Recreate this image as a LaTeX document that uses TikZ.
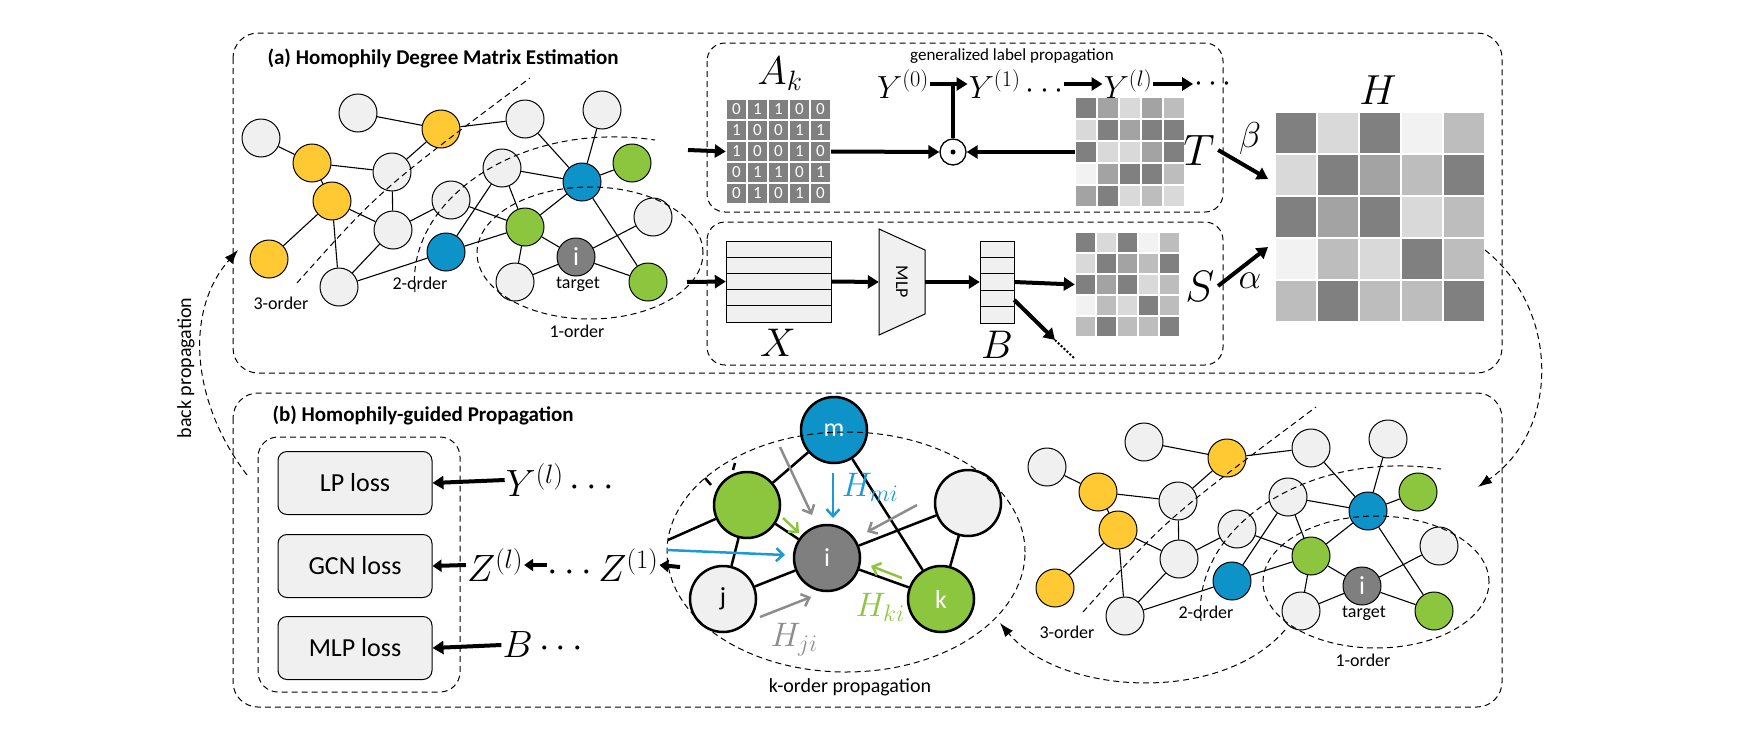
\RequirePackage{fix-cm}
\documentclass[tikz,border=0pt]{standalone}
\usepackage{fontspec}
\setmainfont{Carlito}
\usetikzlibrary{arrows.meta,shapes.geometric}
\definecolor{ngray}{HTML}{F0F0F0}
\definecolor{nyel}{HTML}{FFC933}
\definecolor{nblue}{HTML}{0E93C9}
\definecolor{ngreen}{HTML}{8CC63F}
\definecolor{ndark}{HTML}{7F7F7F}
\definecolor{mD}{HTML}{808080}
\definecolor{mM}{HTML}{A3A3A3}
\definecolor{mL}{HTML}{D9D9D9}
\definecolor{mV}{HTML}{F2F2F2}
\definecolor{mS}{HTML}{BDBDBD}
\definecolor{hblue}{HTML}{1B9AD6}
\definecolor{hgray}{HTML}{8C8C8C}
\newcommand\fsz[1]{\fontsize{#1}{#1}\selectfont}
\newcommand\gmat[4]{%
  \foreach \row [count=\r] in {#4} {
    \foreach \cc [count=\k] in \row {
      \fill[fill=\cc] ({#1+(\k-1)*#3+1},{#2+(\r-1)*#3+1}) rectangle ++({#3-2},{#3-2});
    }
  }}
\tikzset{
  gn/.style={circle,draw,line width=1pt,inner sep=0pt,minimum size=38pt,fill=ngray},
  yn/.style={gn,fill=nyel},
  bn/.style={gn,fill=nblue},
  rn/.style={gn,fill=ngreen},
  tn/.style={gn,fill=ndark,text=white,font=\fsz{26}},
  ed/.style={line width=1.1pt},
  dsh/.style={dashed,line width=1pt,dash pattern=on 6pt off 4pt},
  bigbox/.style={dsh,rounded corners=25pt},
  fat/.style={line width=4pt,-{Triangle[length=11pt,width=13pt]}},
  lbl/.style={font=\fsz{18}},
  bign/.style={circle,draw,line width=2.5pt,inner sep=0pt,minimum size=66pt,font=\fsz{26}},
  harr/.style={line width=2.5pt,-{Straight Barb[length=7pt,width=13pt]}},
  lossb/.style={draw,line width=1pt,rounded corners=9pt,fill=ngray,minimum width=154pt,minimum height=63pt,font=\fsz{26}},
  bar/.style={draw,line width=1pt,fill=ngray}
}
\newcommand\hgraph{%
  \node[gn] (g1) at (261,138) {};
  \node[gn] (g2) at (358,113) {};
  \node[yn] (y1) at (312,163) {};
  \node[yn] (y2) at (441,129) {};
  \node[gn] (g3) at (392,172) {};
  \node[yn] (y3) at (332,201) {};
  \node[gn] (g4) at (393,230) {};
  \node[yn] (y4) at (269,259) {};
  \node[gn] (g5) at (339,287) {};
  \node[gn] (g6) at (525,119) {};
  \node[gn] (g7) at (602,110) {};
  \node[gn] (g8) at (502,168) {};
  \node[gn] (g9) at (451,200) {};
  \node[bn] (b1) at (446,252) {};
  \node[bn] (b2) at (582,182) {};
  \node[rn] (r1) at (632,163) {};
  \node[rn] (r2) at (525,227) {};
  \node[tn] (ti) at (576,257) {i};
  \node[gn] (g10) at (515,282) {};
  \node[gn] (g11) at (653,217) {};
  \node[rn] (r3) at (648,282) {};
  \foreach \a/\b in {g1/y1,y1/g3,g2/y2,y2/g3,y2/g6,y1/y3,y3/g4,y3/y4,y3/g5,g3/g4,g4/g5,g4/g9,
     g5/b1,b1/r2,g8/b1,g8/b2,g8/r2,g9/r2,g6/b2,g7/b2,b2/r1,b2/r2,b2/r3,r2/ti,r2/g10,g10/ti,ti/g11,ti/r3}
     \draw[ed] (\a) -- (\b);
  \draw[dsh] (590,253) ellipse [x radius=113pt, y radius=66pt];
  \draw[dsh] (415,292) .. controls (405,200) and (520,120) .. (655,140);
  \draw[dsh] (297,283) .. controls (380,190) .. (530,78);
  \node[lbl] (l1) at (577,331) {1-order};
  \node[lbl] (l2) at (420,283) {2-order};
  \node[lbl] (l3) at (281,303) {3-order};
  \node[lbl] (lt) at (578,284) {target};
}
\begin{document}
\begin{tikzpicture}[x=1pt,y=-1pt]
\useasboundingbox (0,0) rectangle (1752,731);
% outer boxes
\draw[bigbox] (233,33) rectangle (1502,373);
\draw[bigbox] (233,393) rectangle (1502,707);
\draw[bigbox,rounded corners=18pt] (707,43) rectangle (1223,212);
\draw[bigbox,rounded corners=18pt] (707,222) rectangle (1223,365);
\node[font=\bfseries\fsz{21},anchor=west] (ta) at (264,58) {(a) Homophily Degree Matrix Estimation};
\node[font=\bfseries\fsz{21},anchor=west] (tb) at (269,415) {(b) Homophily-guided Propagation};
% graphs
\begin{scope}[name prefix=a-]\hgraph\end{scope}
\begin{scope}[shift={(786,329)},name prefix=c-]\hgraph\end{scope}
% A_k
\node[font=\fsz{40}] (Akl) at (780,74) {$A_k$};
\node[inner sep=0,minimum width=105pt,minimum height=105pt] (Ak) at (778.5,151.5) {};
\gmat{726}{99}{21}{{mD,mD,mD,mD,mD},{mD,mD,mD,mD,mD},{mD,mD,mD,mD,mD},{mD,mD,mD,mD,mD},{mD,mD,mD,mD,mD}}
\foreach \row [count=\r] in {{0,1,1,0,0},{1,0,0,1,1},{1,0,0,1,0},{0,1,1,0,1},{0,1,0,1,0}}
  \foreach \v [count=\k] in \row
    \node[text=white,font=\fsz{17},inner sep=0] at ({726+(\k-1)*21+10.5},{99+(\r-1)*21+10.5}) {\v};
\coordinate (ga) at (688,150);
\draw[fat] (ga) -- (Ak.west);
% odot
\node[circle,draw,line width=1.3pt,minimum size=26pt,inner sep=0,fill=white] (od) at (953,152) {};
\fill (od.center) circle (2.5pt);
\draw[fat] (Ak.east) -- (od.west);
% T matrix
\node[inner sep=0,minimum width=110pt,minimum height=110pt] (Tm) at (1130,152) {};
\gmat{1075}{97}{22}{{mD,mM,mL,mM,mS},{mL,mD,mM,mD,mD},{mD,mL,mL,mM,mD},{mV,mM,mD,mD,mS},{mM,mD,mL,mS,mL}}
\draw[fat] (Tm.west) -- (od.east);
% label propagation chain
\node[font=\fsz{17}] (glp) at (1012,56) {generalized label propagation};
\node[font=\fsz{32},inner sep=1pt] (Y0) at (903,84) {$Y^{(0)}$};
\node[font=\fsz{32},inner sep=1pt] (Y1) at (1016,84) {$Y^{(1)}\cdots$};
\node[font=\fsz{32},inner sep=1pt] (Yl) at (1128,84) {$Y^{(l)}$};
\node[font=\fsz{32},inner sep=1pt] (Yd) at (1213,84) {$\cdots$};
\draw[fat] (Y0.east) -- (Y1.west);
\draw[fat] (Y1.east) -- (Yl.west);
\draw[fat] (Yl.east) -- (Yd.west);
\draw[line width=4pt] (od.north) -- (od.north |- Y0.east);
% X, MLP, B
\node[inner sep=0,minimum width=105pt,minimum height=81pt] (Xm) at (778.5,281.5) {};
\foreach \r in {0,...,4} \draw[bar] (726,{241+\r*16.2}) rectangle (831,{241+(\r+1)*16.2});
\node[font=\fsz{40}] (Xl) at (778,343) {$X$};
\coordinate (gx) at (687,282);
\draw[fat] (gx) -- (Xm.west);
\draw[line width=1pt,fill=ngray] (879,229) -- (925,250) -- (925,314) -- (879,335) -- cycle;
\node[inner sep=0,minimum width=46pt,minimum height=100pt] (mlp) at (902,282) {};
\node[rotate=-90,font=\fsz{18}] (mlpt) at (902,282) {MLP};
\draw[fat] (Xm.east) -- (mlp.west);
\node[inner sep=0,minimum width=34pt,minimum height=82pt] (Bm) at (997,282) {};
\foreach \r in {0,...,4} \draw[bar] (980,{241+\r*16.4}) rectangle (1014,{241+(\r+1)*16.4});
\node[font=\fsz{40}] (Bl) at (997,345) {$B$};
\draw[fat] (mlp.east) -- (Bm.west);
% S matrix
\node[inner sep=0,minimum width=105pt,minimum height=105pt] (Sm) at (1127.5,284.5) {};
\gmat{1075}{232}{21}{{mD,mL,mD,mV,mS},{mL,mD,mM,mS,mD},{mD,mM,mD,mL,mS},{mV,mS,mL,mD,mS},{mS,mD,mS,mS,mD}}
\draw[fat] (Bm.east) -- (Sm.west);
\coordinate (bd) at (1055,340);
\draw[line width=4pt,-{Triangle[length=11pt,width=13pt]}] ([yshift=-18pt]Bm.east) -- (bd);
\draw[line width=2pt,dotted] (bd) -- (1074,358);
% H matrix
\node[font=\fsz{42}] (Hl) at (1378,90) {$H$};
\node[inner sep=0,minimum width=210pt,minimum height=210pt] (Hm) at (1380,217) {};
\gmat{1275}{112}{42}{{mD,mL,mD,mV,mS},{mL,mD,mM,mS,mD},{mD,mM,mD,mL,mS},{mV,mS,mL,mD,mS},{mS,mD,mS,mS,mD}}
\node[font=\fsz{44}] (Tl) at (1199,150) {$T$};
\node[font=\fsz{36}] (bl) at (1250,138) {$\beta$};
\node[font=\fsz{44}] (Sl) at (1200,286) {$S$};
\node[font=\fsz{36}] (al) at (1250,281) {$\alpha$};
\draw[fat] (Tl.east) -- (1268,179);
\draw[fat] (Sl.east) -- (1268,247);
% long curves
\coordinate (hc) at (1485,250);
\coordinate (ge) at (1478,487);
\draw[dsh,-{Latex[length=14pt,width=10pt]}] (hc) .. controls (1560,310) and (1560,430) .. (ge);
\coordinate (bp1) at (247,475);
\coordinate (bp2) at (238,250);
\draw[dsh,-{Latex[length=14pt,width=10pt]}] (bp1) .. controls (190,400) and (185,310) .. (bp2);
\node[rotate=90,font=\fsz{20}] (bpl) at (186,368) {back propagation};
% losses
\draw[dsh,rounded corners=20pt] (258,437) rectangle (460,692);
\node[lossb] (lp) at (355,483) {LP loss};
\node[lossb] (gcn) at (355,566) {GCN loss};
\node[lossb] (mlpl) at (355,648) {MLP loss};
\node[font=\fsz{38},inner sep=1pt] (Yb) at (560,480) {$Y^{(l)}\cdots$};
\node[font=\fsz{38},inner sep=1pt] (Zl) at (495,565) {$Z^{(l)}$};
\node[font=\fsz{38},inner sep=1pt] (Z1) at (603,565) {$\cdots Z^{(1)}$};
\node[font=\fsz{38},inner sep=1pt] (Bb) at (543,645) {$B\cdots$};
\draw[fat] (Yb.west) -- (lp.east);
\draw[line width=4pt,-{Triangle[length=9pt,width=12pt]}] (Zl.west) -- (gcn.east);
\draw[line width=4pt,-{Triangle[length=9pt,width=12pt]}] (Z1.west) -- (Zl.east);
\coordinate (ko) at (680,567);
\draw[line width=4pt,-{Triangle[length=9pt,width=12pt]}] (ko) -- (Z1.east);
\draw[fat] (Bb.west) -- (mlpl.east);
% k-order propagation
\node[bign,fill=nblue,text=white] (m) at (834,430) {m};
\node[bign,fill=ngreen] (gA) at (747,505) {};
\node[bign,fill=ndark,text=white] (ci) at (827,558) {i};
\node[bign,fill=ngray] (cj) at (723,599) {j};
\node[bign,fill=ngreen,text=white] (ck) at (941,599) {k};
\node[bign,fill=ngray] (gB) at (968,503) {};
\foreach \a/\b in {m/gA,m/ck,gA/ci,gA/cj,cj/ci,ci/ck,ci/gB,gB/ck}
  \draw[line width=2.5pt] (\a) -- (\b);
\coordinate (st1) at (668,540);
\draw[line width=2.5pt] (gA) -- (st1);
\draw[line width=2.5pt] (711,485) -- (705,478);
\draw[line width=2.5pt] (733,470) -- (735,463);
\draw[dsh] (846,552) ellipse [x radius=179pt, y radius=120pt];
\node[font=\fsz{20}] (kol) at (850,687) {k-order propagation};
\draw[harr,hgray] (780,447) -- (812,515);
\draw[harr,hblue] (833,473) -- (833,518);
\node[text=hblue,font=\fsz{34}] (Hmi) at (870,487) {$H_{mi}$};
\draw[harr,ngreen] (783,518) -- (799,533);
\draw[harr,hblue] (667,550) -- (785,555);
\draw[harr,hgray] (917,505) -- (867,532);
\draw[harr,ngreen] (902,578) -- (871,566);
\node[text=ngreen,font=\fsz{34}] (Hki) at (880,607) {$H_{ki}$};
\draw[harr,hgray] (760,617) -- (811,597);
\node[text=hgray,font=\fsz{34}] (Hji) at (794,640) {$H_{ji}$};
% arc from right graph to k-order
\coordinate (ra) at (1285,630);
\coordinate (ka) at (1000,623);
\draw[dsh,-{Latex[length=14pt,width=10pt]}] (ra) .. controls (1220,705) and (1060,695) .. (ka);
\end{tikzpicture}
\end{document}
